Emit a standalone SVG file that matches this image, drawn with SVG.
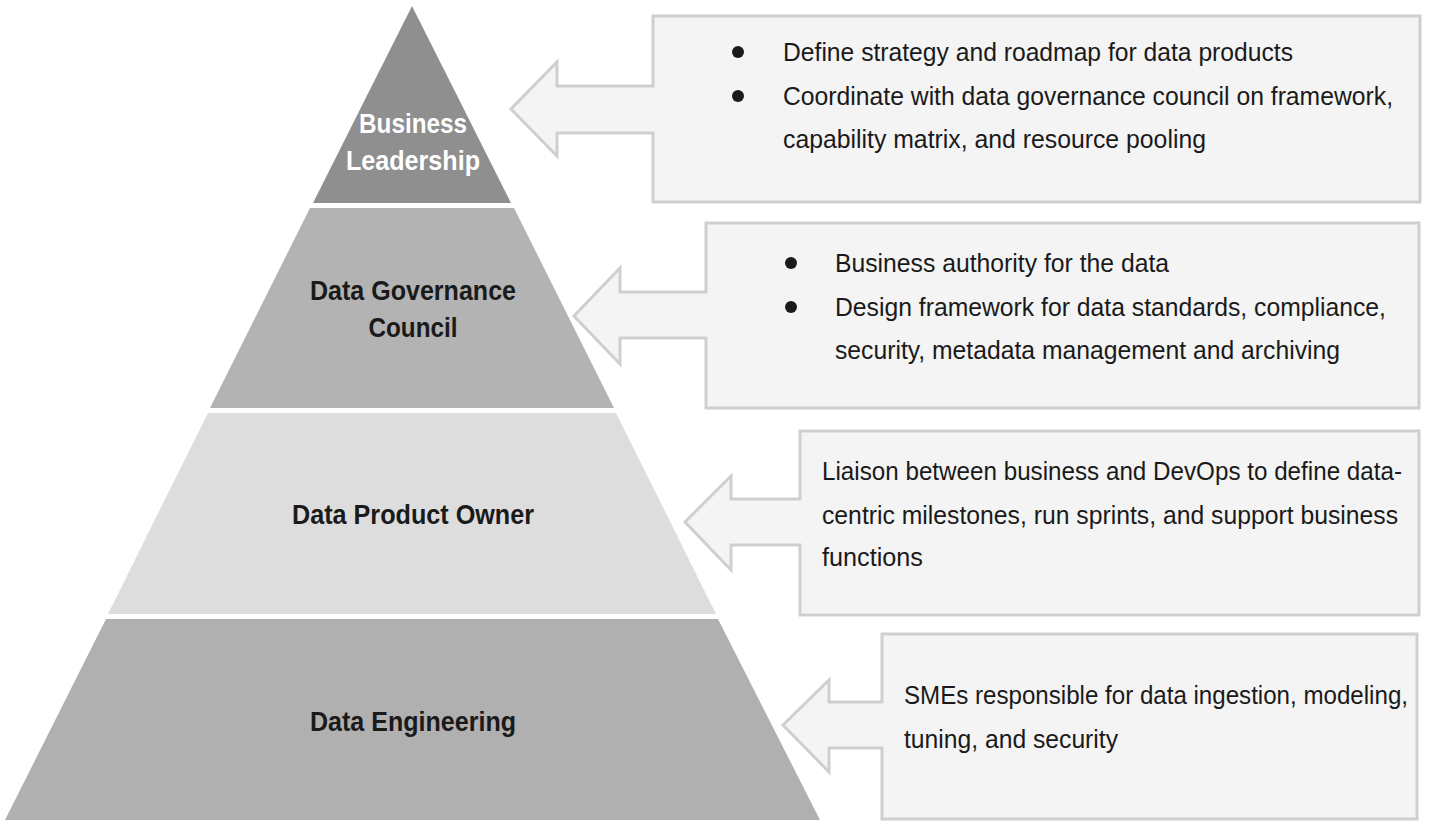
<svg xmlns="http://www.w3.org/2000/svg" width="1429" height="825" viewBox="0 0 1429 825">
<style>
.call{fill:#f4f4f4;stroke:#cfcfcf;stroke-width:3}
.t{font-family:"Liberation Sans Narrow","Liberation Sans",Arial,sans-serif;font-size:26px;fill:#1a1a1a;font-stretch:condensed}
.l{font-family:"Liberation Sans Narrow","Liberation Sans",Arial,sans-serif;font-size:27px;font-weight:bold;fill:#1a1a1a;text-anchor:middle}
.w{fill:#fff}
</style>
<rect width="1429" height="825" fill="#fff"/>
<g id="layer1"><polygon points="412,6 511,203 313,203" fill="#8f8f8f"/>
<text class="l w" x="413" y="133" textLength="108" lengthAdjust="spacingAndGlyphs">Business</text>
<text class="l w" x="413" y="170" textLength="134" lengthAdjust="spacingAndGlyphs">Leadership</text></g>
<g id="layer2"><polygon points="310,208 514,208 614,408 210,408" fill="#b3b3b3"/>
<text class="l" x="413" y="300" textLength="206" lengthAdjust="spacingAndGlyphs">Data Governance</text>
<text class="l" x="413" y="337" textLength="89" lengthAdjust="spacingAndGlyphs">Council</text></g>
<g id="layer3"><polygon points="208,413 616,413 716,614 108,614" fill="#dddddd"/>
<text class="l" x="413" y="524" textLength="242" lengthAdjust="spacingAndGlyphs">Data Product Owner</text></g>
<g id="layer4"><polygon points="106,619 718,619 820,820 5,820" fill="#b0b0b0"/>
<text class="l" x="413" y="731" textLength="206" lengthAdjust="spacingAndGlyphs">Data Engineering</text></g>
<g id="connectors">
<polygon class="call" points="653,16 1420,16 1420,202 653,202 653,133 557,133 557,156 511,109 557,62 557,86 653,86"/>
<polygon class="call" points="706,223 1419,223 1419,408 706,408 706,338 620,338 620,364 574,316 620,268 620,292 706,292"/>
<polygon class="call" points="800,431 1419,431 1419,615 800,615 800,545 731,545 731,570 685,522 731,476 731,499 800,499"/>
<polygon class="call" points="882,634 1417,634 1417,819 882,819 882,748 829,748 829,772 783,725 829,680 829,702 882,702"/>
</g>
<g id="text1">
<circle cx="738" cy="52" r="6" fill="#1a1a1a"/><circle cx="738" cy="96" r="6" fill="#1a1a1a"/>
<text class="t" x="783" y="61" textLength="510" lengthAdjust="spacingAndGlyphs">Define strategy and roadmap for data products</text>
<text class="t" x="783" y="105" textLength="610" lengthAdjust="spacingAndGlyphs">Coordinate with data governance council on framework,</text>
<text class="t" x="783" y="148" textLength="423" lengthAdjust="spacingAndGlyphs">capability matrix, and resource pooling</text></g>
<g id="text2">
<circle cx="791" cy="263" r="6" fill="#1a1a1a"/><circle cx="791" cy="307" r="6" fill="#1a1a1a"/>
<text class="t" x="835" y="272" textLength="334" lengthAdjust="spacingAndGlyphs">Business authority for the data</text>
<text class="t" x="835" y="316" textLength="551" lengthAdjust="spacingAndGlyphs">Design framework for data standards, compliance,</text>
<text class="t" x="835" y="359" textLength="505" lengthAdjust="spacingAndGlyphs">security, metadata management and archiving</text></g>
<g id="text3">
<text class="t" x="822" y="480" textLength="580" lengthAdjust="spacingAndGlyphs">Liaison between business and DevOps to define data-</text>
<text class="t" x="822" y="524" textLength="576" lengthAdjust="spacingAndGlyphs">centric milestones, run sprints, and support business</text>
<text class="t" x="822" y="566" textLength="101" lengthAdjust="spacingAndGlyphs">functions</text></g>
<g id="text4">
<text class="t" x="904" y="704" textLength="504" lengthAdjust="spacingAndGlyphs">SMEs responsible for data ingestion, modeling,</text>
<text class="t" x="904" y="748" textLength="214" lengthAdjust="spacingAndGlyphs">tuning, and security</text></g>
</svg>
